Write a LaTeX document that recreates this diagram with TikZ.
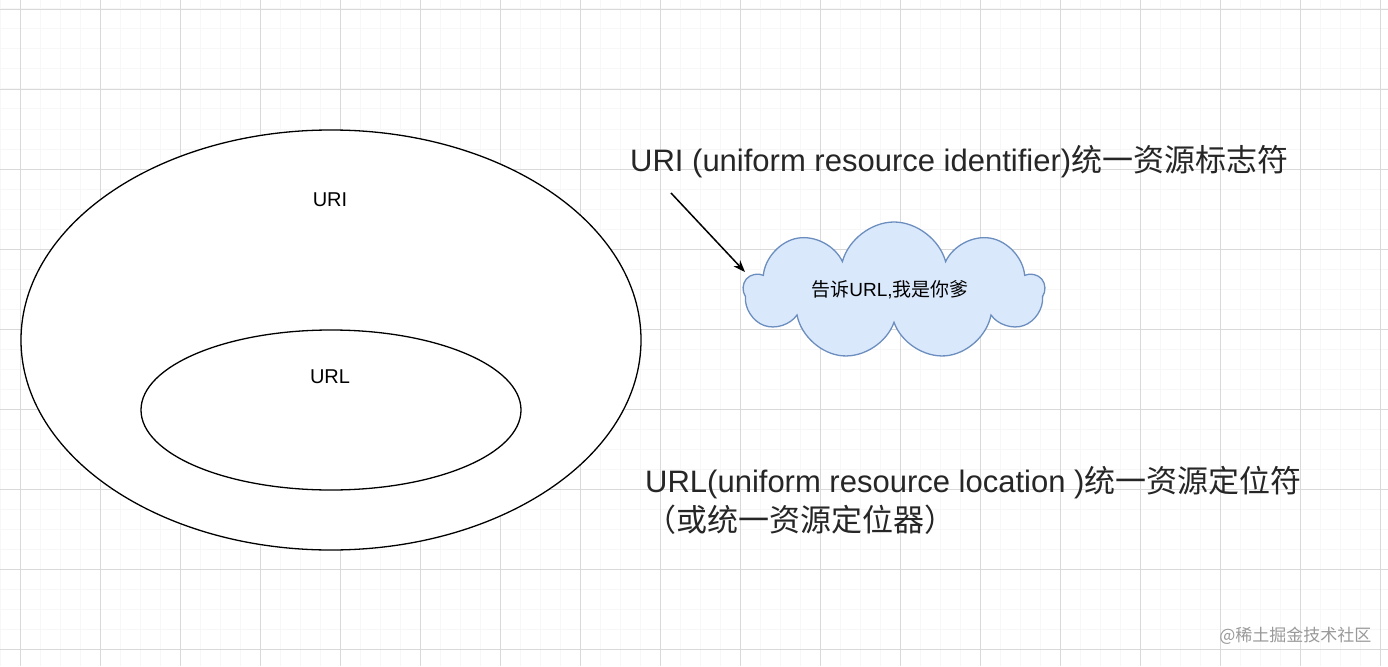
\documentclass[tikz,border=0pt]{standalone}
\usepackage{fontspec}
\setmainfont{Liberation Sans}
\newfontfamily\cjk{Noto Sans CJK SC}
\usetikzlibrary{shapes.symbols,shapes.geometric,arrows.meta}
\definecolor{cloudfill}{HTML}{DAE8FC}
\definecolor{clouddraw}{HTML}{6C8EBF}
\tikzset{lbl/.style={font=\fontsize{20}{24}\selectfont},
big/.style={font=\fontsize{31}{36}\selectfont,text=black!85,anchor=west,inner sep=0}}
\begin{document}
\begin{tikzpicture}[x=1pt,y=-1pt]
\useasboundingbox (0,0) rectangle (1388,666);
\fill[white] (0,0) rectangle (1388,666);
\foreach \x in {0,20,...,1380} \draw[black!3,line width=1pt] (\x,0) -- (\x,666);
\foreach \y in {9,29,...,665} \draw[black!3,line width=1pt] (0,\y) -- (1388,\y);
\foreach \x in {20,100,...,1380} \draw[black!15,line width=0.8pt] (\x,0) -- (\x,666);
\foreach \y in {9,89,...,665} \draw[black!15,line width=0.8pt] (0,\y) -- (1388,\y);
\node[draw,fill=white,ellipse,minimum width=620,minimum height=420,line width=1.3pt] (outer) at (331,340) {};
\node[draw,ellipse,minimum width=380,minimum height=160,line width=1.3pt] (inner) at (331,410) {};
\node[lbl] (uri) at (330,200) {URI};
\node[lbl] (url) at (330,377) {URL};
\node[cloud,cloud puffs=9,aspect=2.2,draw=clouddraw,fill=cloudfill,line width=1.3pt,minimum width=300,minimum height=138,inner sep=0] (cl) at (894,291) {};
\node[font=\fontsize{19}{22}\selectfont] (clt) at (890,290) {{\cjk 告诉}URL,{\cjk 我是你爹}};
\node[big] (t1) at (630,162) {URI (uniform resource identifier){\cjk 统一资源标志符}};
\node[big] (t2) at (645,483) {URL(uniform resource location ){\cjk 统一资源定位符}};
\node[big] (t3) at (645,520) {{\cjk （或统一资源定位器）}};
\coordinate (a0) at (671,193);
\coordinate (a1) at (745,272);
\draw[-{Stealth[length=12pt,width=9pt]},line width=1.5pt] (a0) -- (a1);
\node[anchor=east,text=black!40,font=\cjk\fontsize{17}{20}\selectfont] (wm) at (1375,636) {@稀土掘金技术社区};
\end{tikzpicture}
\end{document}
